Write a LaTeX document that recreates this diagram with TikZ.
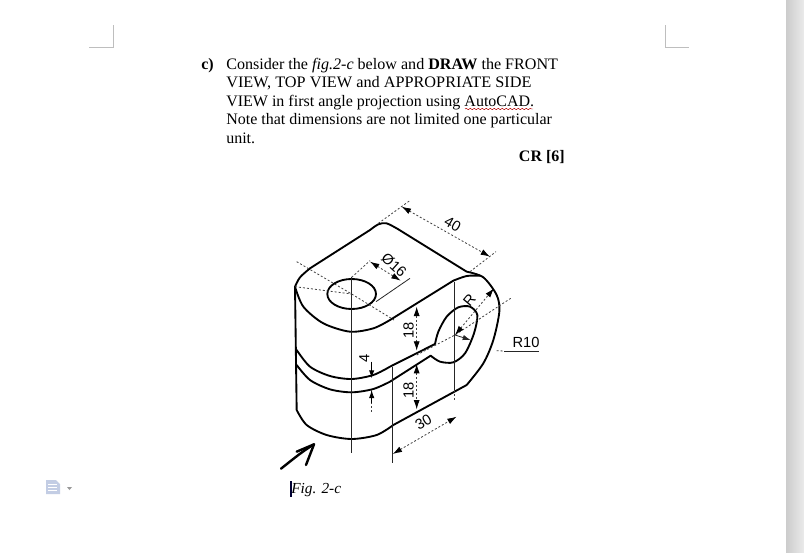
\documentclass[tikz,border=0pt]{standalone}
\usepackage{fontspec}
\usepackage{xcolor}
\setmainfont{Liberation Serif}
\setsansfont{Liberation Sans}
\usetikzlibrary{arrows.meta,decorations.pathmorphing}
\definecolor{cropgray}{RGB}{190,190,190}
\definecolor{iconblue}{RGB}{195,205,228}
\tikzset{
    bodytext/.style={anchor=base west, inner sep=0pt, font=\fontsize{12}{14}\selectfont},
    dimtext/.style={inner sep=0pt, font=\sffamily\fontsize{11}{13}\selectfont},
    outline/.style={black, line width=1.4pt, line cap=round, line join=round},
    thinline/.style={black!85, line width=0.6pt},
    dotline/.style={black!75, line width=0.6pt, dash pattern=on 1.5pt off 1.5pt},
    dimarrow/.style={black!75, line width=0.6pt, dash pattern=on 1.5pt off 1.5pt, {Latex[length=7pt,width=4.5pt,black]}-{Latex[length=7pt,width=4.5pt,black]}},
    dimhead/.style={black, line width=0.7pt, -{Latex[length=6pt,width=4pt]}},
}
\begin{document}
\begin{tikzpicture}[x=0.75pt,y=-0.75pt]
    \useasboundingbox (0,0) rectangle (804,553);
    \fill[white] (0,0) rectangle (804,553);
    % window edge
    \shade[left color=black!20, right color=black!8] (786,0) rectangle (804,553);
    % page corners
    \draw[cropgray] (89,47) -- (113,47) -- (113,25);
    \draw[cropgray] (665,25) -- (665,47) -- (689,47);
    % question text
    \node[bodytext] (label) at (201,69) {\textbf{c)}};
    \node[bodytext, xscale=1.006, transform shape] (line1) at (226,69) {Consider the \textit{fig.2-c} below and \textbf{DRAW} the FRONT};
    \node[bodytext, xscale=1.016, transform shape] (line2) at (226,87) {VIEW, TOP VIEW and APPROPRIATE SIDE};
    \node[bodytext] (line3) at (226,106) {VIEW in first angle projection using AutoCAD.};
    \node[bodytext] (line4) at (226,124) {Note that dimensions are not limited one particular};
    \node[bodytext] (line5) at (226,143) {unit.};
    \node[bodytext, anchor=base east] (mark) at (565,161) {\textbf{CR [6]}};
    \draw[red!70!black, line width=0.35pt, decorate, decoration={snake, amplitude=0.5pt, segment length=3pt}] (465,109) -- (533,109);
    % the part, in crop coordinates
    \begin{scope}[shift={(270,190)}, x=0.25pt, y=-0.25pt]
        \coordinate (topc) at (245,312);
        \coordinate (sidec) at (555,435);
        % outer contour
        \draw[outline] plot[smooth] coordinates {(75,290) (90,262) (120,235)} -- (300,120)
            plot[smooth] coordinates {(300,120) (325,103) (350,100) (385,118)} -- (590,245)
            plot[smooth] coordinates {(590,245) (640,262) (680,315) (688,365) (670,450) (640,520) (590,585)} -- (370,705)
            plot[smooth] coordinates {(370,705) (320,735) (245,747) (170,735) (110,705) (80,660)} -- (75,290);
        % edge of the top face
        \draw[outline] plot[smooth] coordinates {(75,290) (100,350) (160,400) (240,425) (310,415) (360,390)} -- (550,272)
            plot[smooth] coordinates {(550,272) (590,258) (630,257)};
        % slot
        \draw[outline] plot[smooth] coordinates {(80,480) (120,530) (180,558) (245,567) (310,555) (360,530)} -- (495,462);
        \draw[outline] plot[smooth] coordinates {(80,525) (120,570) (180,598) (245,607) (310,597) (360,575)} -- (482,497);
        \draw[outline] plot[smooth] coordinates {(495,462) (505,425) (530,380) (565,352) (600,350) (622,375) (612,430) (585,490) (550,517) (510,515) (482,497)};
        % hole
        \draw[outline] (topc) ellipse[x radius=73, y radius=45];
        % centre lines
        \draw[thinline] (245,262) -- (245,790);
        \draw[thinline] (553,275) -- (553,600);
        \draw[thinline] (368,530) -- (368,820);
        \draw[dotline] (80,215) -- (topc) -- (372,390);
        \draw[dotline] (75,290) -- (topc);
        \draw[dotline] (245,262) -- (300,212);
        \draw[thinline] (318,335) -- (420,265);
        \draw[dotline] (440,495) -- (sidec) -- (722,325);
        \draw[dotline] (553,600) -- (553,635);
        \draw[dotline] (305,600) -- (305,665);
        % extension lines
        \draw[dotline] (325,100) -- (422,30);
        \draw[dotline] (600,245) -- (678,185);
        % dimensions
        \draw[dimarrow] (395,50) -- (660,200);
        \node[dimtext, rotate=-30] (dimlen) at (548,103) {40};
        \draw[dimarrow] (300,215) -- (392,272);
        \node[dimtext, rotate=-42] (dimdia) at (372,226) {Ø16};
        \draw[dimarrow] (sidec) -- (672,295);
        \draw[dimhead, thinline] (sidec) -- (602,450);
        \node[dimtext, rotate=50] (dimrad) at (598,330) {R};
        \draw[dimarrow] (440,350) -- (440,482);
        \node[dimtext, rotate=90] (dimup) at (416,420) {18};
        \draw[dimarrow] (440,522) -- (440,658);
        \node[dimtext, rotate=90] (dimlow) at (416,600) {18};
        \draw[dimhead] (305,515) -- (305,565);
        \draw[dimhead] (305,640) -- (305,600);
        \node[dimtext, rotate=90] (dimgap) at (283,505) {4};
        \draw[dimarrow] (368,792) -- (560,680);
        \node[dimtext, rotate=30] (dimwid) at (460,695) {30};
        % leader of the outer radius
        \draw[dotline] (680,482) -- (702,483);
        \draw[thinline] (702,483) -- (806,483);
        \node[dimtext] (dimout) at (768,456) {R10};
        % viewing direction
        \coordinate (viewtail) at (33,836);
        \coordinate (viewtip) at (132,763);
        \draw[outline, line width=1.8pt] (viewtail) .. controls (60,815) and (95,785) .. (viewtip);
        \draw[outline, line width=1.8pt] (80,785) -- (viewtip) -- (108,825);
    \end{scope}
    % caption with the cursor
    \node[bodytext, font=\fontsize{11.5}{14}\selectfont\itshape] (caption) at (291,493) {Fig. 2-c};
    \coordinate (cursortop) at (291,481);
    \coordinate (cursorbot) at (291,497);
    \draw[black!80!blue, line width=0.8pt] (cursortop) -- (cursorbot);
    % page icon
    \fill[iconblue] (46,480) -- (56,480) -- (60,484) -- (60,494) -- (46,494) -- cycle;
    \foreach \ypos in {484,487,490} {
        \draw[white, line width=0.6pt] (48,\ypos) -- (57,\ypos);
    }
    \fill[black!40] (67,487) -- (72,487) -- (69.5,490) -- cycle;
\end{tikzpicture}
\end{document}
